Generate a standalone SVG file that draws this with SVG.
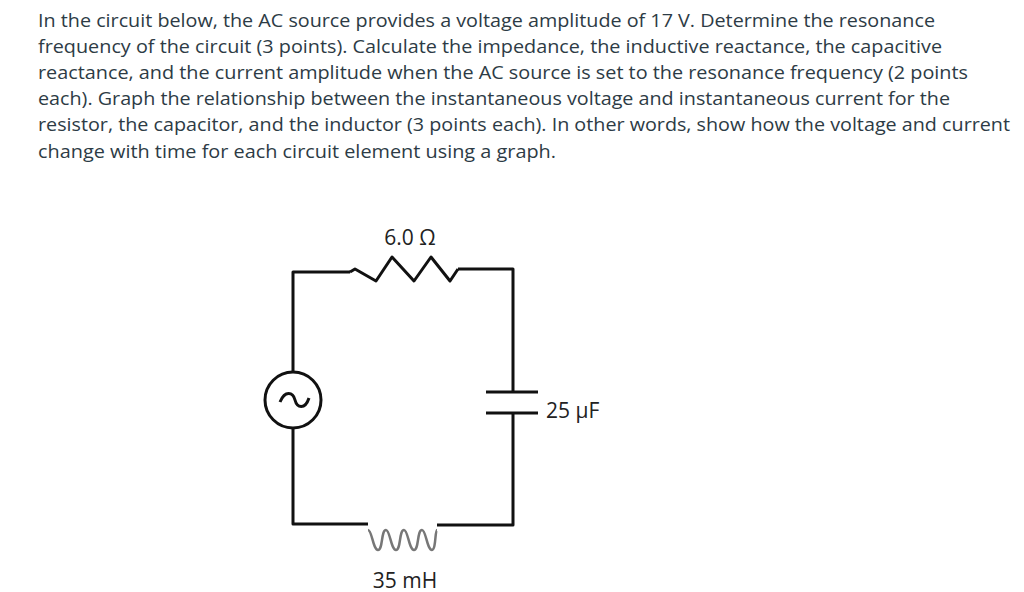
<svg xmlns="http://www.w3.org/2000/svg" width="1024" height="592" viewBox="0 0 1024 592">
<style>
.q{font-family:"Open Sans","Liberation Sans",sans-serif;font-size:17.5px;fill:#2d3b45}
.l{font-family:"Open Sans","DejaVu Sans",sans-serif;font-size:21px;fill:#222}
.w{fill:none;stroke:#111;stroke-width:3;stroke-linejoin:round}
</style>
<rect width="1024" height="592" fill="#fff"/>
<g id="question">
<text class="q" x="38" y="27" textLength="897" lengthAdjust="spacingAndGlyphs">In the circuit below, the AC source provides a voltage amplitude of 17 V. Determine the resonance</text>
<text class="q" x="38" y="53" textLength="904" lengthAdjust="spacingAndGlyphs">frequency of the circuit (3 points). Calculate the impedance, the inductive reactance, the capacitive</text>
<text class="q" x="38" y="79" textLength="930" lengthAdjust="spacingAndGlyphs">reactance, and the current amplitude when the AC source is set to the resonance frequency (2 points</text>
<text class="q" x="38" y="105" textLength="912" lengthAdjust="spacingAndGlyphs">each). Graph the relationship between the instantaneous voltage and instantaneous current for the</text>
<text class="q" x="38" y="131" textLength="972" lengthAdjust="spacingAndGlyphs">resistor, the capacitor, and the inductor (3 points each). In other words, show how the voltage and current</text>
<text class="q" x="38" y="158" textLength="518" lengthAdjust="spacingAndGlyphs">change with time for each circuit element using a graph.</text>
</g>
<g id="wires">
<path class="w" d="M293 372 V272 H350 M458 269 H513 V392 M513 413 V525 H437 M368 524 H293 V428"/>
</g>
<g id="resistor">
<path class="w" d="M350 272 L355 269 L376 281 L392 257 L414 281 L431 257 L450 281 L458 269"/>
<text class="l" x="410" y="245" text-anchor="middle">6.0 Ω</text>
</g>
<g id="source">
<circle class="w" cx="293" cy="400" r="28"/>
<path class="w" d="M280 402 C285 390 293 392 295 400 C297 408 305 410 309 398"/>
</g>
<g id="capacitor">
<path class="w" d="M486 392 H538 M486 413 H538"/>
<text class="l" x="546" y="418">25 μF</text>
</g>
<g id="inductor">
<path d="M368 530 c4 0 5 20 10 20 c5 0 3 -20 8 -20 c4 0 5 20 10 20 c5 0 3 -20 8 -20 c4 0 5 20 10 20 c5 0 3 -20 8 -20 c4 0 5 20 10 20 c4 0 3-20 5-20" fill="none" stroke="#777" stroke-width="2.5"/>
<text class="l" x="405" y="588" text-anchor="middle">35 mH</text>
</g>
</svg>
